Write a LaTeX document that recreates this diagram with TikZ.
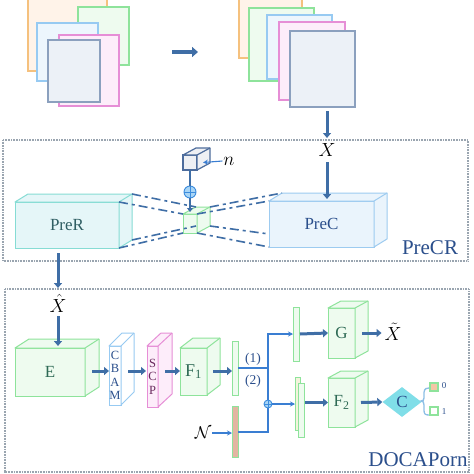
\RequirePackage{fix-cm}
\documentclass[tikz,border=0pt]{standalone}
\usepackage{fontspec}
\setmainfont{Liberation Serif}
\usetikzlibrary{arrows.meta,calc,shapes.geometric}
\definecolor{arrowblue}{HTML}{3F6EA6}
\definecolor{thinblue}{HTML}{3A7ED2}
\definecolor{gS}{HTML}{8EE39B}
\definecolor{gF}{HTML}{EEFBEF}
\definecolor{oS}{HTML}{F5C17E}
\definecolor{oF}{HTML}{FFF3E9}
\definecolor{bS}{HTML}{97CAF2}
\definecolor{bF}{HTML}{EDF6FD}
\definecolor{pS}{HTML}{E68ED6}
\definecolor{pF}{HTML}{FDEDFA}
\definecolor{kS}{HTML}{8BA0BE}
\definecolor{kF}{HTML}{ECF1F7}
\definecolor{tealS}{HTML}{86DCD4}
\definecolor{tealF}{HTML}{E5F6F8}
\definecolor{pcS}{HTML}{9DCBF0}
\definecolor{pcF}{HTML}{EAF4FC}
\definecolor{darkblue}{HTML}{2B4F8C}
\definecolor{darkteal}{HTML}{2F5E63}
\definecolor{darkgreen}{HTML}{2E6A55}
\definecolor{darkmag}{HTML}{6A2A5E}
\definecolor{frameC}{HTML}{9AA5B0}
\definecolor{cyanF}{HTML}{80DEE8}
\definecolor{peach}{HTML}{F3C6A6}
\definecolor{salmon}{HTML}{E2B5A2}
\definecolor{nS}{HTML}{4D6C9C}
\definecolor{nF}{HTML}{EEF0F4}
\definecolor{opF}{HTML}{A8D5F6}
\definecolor{opS}{HTML}{3C8CDD}
\definecolor{braceC}{HTML}{8DBFE6}
\definecolor{backbar}{HTML}{F4F3DC}
\newcommand\cubeside[4]{%
  \filldraw[#4] (#1.north west) -- ++(#2,#3) -- ($(#1.north east)+(#2,#3)$) -- ($(#1.south east)+(#2,#3)$) -- (#1.south east) -- (#1.north east) -- cycle;
  \draw[#4] (#1.north east) -- ++(#2,#3);
}
\tikzset{
  card/.style 2 args={draw=#1,fill=#2,line width=1.1pt,inner sep=0pt,outer sep=0pt,anchor=north west},
  face/.style 2 args={draw=#1,fill=#2,line width=1pt,inner sep=0pt,outer sep=0pt,anchor=north west},
  side/.style 2 args={draw=#1,fill=#2,line width=1pt,line join=round},
  bigarrow/.style={draw=arrowblue,line width=4pt,-{Triangle[length=6pt,width=10pt]}},
  midarrow/.style={draw=arrowblue,line width=3pt,-{Triangle[length=5pt,width=8pt]}},
  thinarrow/.style={draw=thinblue,line width=1.1pt,-{Stealth[length=5pt,width=5pt]}},
  thinline/.style={draw=thinblue,line width=1.1pt},
  dashline/.style={draw=arrowblue,line width=1.6pt,dash pattern=on 9pt off 4pt on 3pt off 4pt},
  frame/.style={draw=frameC,line width=1.2pt,dash pattern=on 0.8pt off 0.8pt},
  lbl/.style={inner sep=0pt,outer sep=1pt},
  mathlbl/.style={inner sep=0pt,outer sep=1pt,font=\fontsize{19}{19}\selectfont},
  biglbl/.style={inner sep=0pt,text=darkblue,font=\fontsize{21}{21}\selectfont},
  oplus/.style={circle,draw=opS,fill=opF,line width=0.9pt,inner sep=0pt,minimum size=#1,
    path picture={\draw[opS,line width=0.9pt] (path picture bounding box.north) -- (path picture bounding box.south) (path picture bounding box.west) -- (path picture bounding box.east);}},
}
\begin{document}
\begin{tikzpicture}[x=1pt,y=-1pt]
\useasboundingbox[fill=white] (0,0) rectangle (474,474);
% frames
\draw[frame] (3,140) rectangle (468,261);
\draw[frame] (5,289) rectangle (469,472);
% left stack
\node[card={oS}{oF},minimum width=79,minimum height=73] (l1) at (28,-2) {};
\node[card={gS}{gF},minimum width=51,minimum height=58] (l2) at (78,7) {};
\node[card={bS}{bF},minimum width=61,minimum height=58] (l3) at (37,23) {};
\node[card={pS}{pF},minimum width=60,minimum height=71] (l4) at (59,35) {};
\node[card={kS}{kF},minimum width=52,minimum height=62] (l5) at (48,40) {};
% right stack
\node[card={oS}{oF},minimum width=63,minimum height=60] (r1) at (239,-2) {};
\node[card={gS}{gF},minimum width=65,minimum height=73] (r2) at (249,8) {};
\node[card={bS}{bF},minimum width=65,minimum height=64] (r3) at (267,15) {};
\node[card={pS}{pF},minimum width=66,minimum height=78] (r4) at (279,22) {};
\node[card={kS}{kF},minimum width=65,minimum height=76] (r5) at (290,31) {};
\coordinate (ta) at (172,52);
\coordinate (tb) at (198,52);
\draw[bigarrow] (ta) -- (tb);
% PreCR
\node[mathlbl] (X) at (327,150) {$X$};
\draw[midarrow,shorten <=4pt] (X.north |- r5.south) -- (327,138);
\node[face={tealS}{tealF},minimum width=104,minimum height=46,font=\fontsize{17}{17}\selectfont,text=darkteal] (PreR) at (15,202) {PreR};
\cubeside{PreR}{13}{-8}{side={tealS}{tealF}}
\node[face={pcS}{pcF},minimum width=105,minimum height=46,font=\fontsize{17}{17}\selectfont,text=darkblue] (PreC) at (269,201) {PreC};
\cubeside{PreC}{13}{-8}{side={pcS}{pcF}}
\draw[midarrow,shorten <=5pt,shorten >=2pt] (X.south) -- (X |- PreC.north);
\node[face={nS}{nF},minimum width=14,minimum height=15,line width=1.2pt] (ncube) at (183,155) {};
\cubeside{ncube}{13}{-7}{side={nS}{nF},line width=1.2pt}
\node[mathlbl] (n) at (229,161) {$n$};
\draw[thinarrow] (n.west) -- ($(ncube.east)+(6,0)$);
\node[oplus=12pt] (op1) at (190,192) {};
\node[face={gS}{gF},minimum width=14,minimum height=19] (scube) at (183,214) {};
\cubeside{scube}{13}{-7}{side={gS}{gF}}
\draw[draw=arrowblue,line width=2pt] (ncube.south) -- (op1.north);
\draw[draw=arrowblue,line width=2pt,-{Triangle[length=4pt,width=6pt]},shorten >=2pt] (op1.south) -- (scube.north);
% dashed perspective lines
\draw[dashline] ($(PreR.north east)+(13,-8)$) -- ($(scube.north west)+(13,-7)$);
\draw[dashline] (PreR.north east) -- (scube.north west);
\draw[dashline] (PreR.south east) -- (scube.south west);
\draw[dashline] ($(PreR.south east)+(13,-8)$) -- ($(scube.south west)+(13,-7)$);
\draw[dashline] ($(scube.north east)+(13,-7)$) -- ($(PreC.north west)+(13,-8)$);
\draw[dashline] (scube.north east) -- (PreC.north west);
\draw[dashline] ($(scube.south east)+(13,-7)$) -- ($(PreC.south west)+(0,-13)$);
\draw[dashline] (scube.south east) -- (PreC.south west);
\node[biglbl] (precr) at (430,248) {PreCR};
% DOCAPorn
\node[mathlbl] (Xh) at (58,303) {$\hat{X}$};
\draw[midarrow,shorten <=5pt] (Xh |- PreR.south) -- (58,288);
\node[face={gS}{gF},minimum width=70,minimum height=48,font=\fontsize{17}{17}\selectfont,text=darkgreen] (E) at (15,348) {E};
\cubeside{E}{14}{-9}{side={gS}{gF}}
\draw[midarrow,shorten <=3pt,shorten >=2pt] (Xh.south) -- (Xh |- E.north);
\node[face={bS}{white},minimum width=12,minimum height=59,align=center,text=darkblue,font=\fontsize{12.5}{13.5}\selectfont] (CBAM) at (109,346) {C\\B\\A\\M};
\cubeside{CBAM}{13}{-13}{side={bS}{white}}
\node[face={pS}{pF},minimum width=11,minimum height=61,align=center,text=darkmag,font=\fontsize{12.5}{13.5}\selectfont] (SCP) at (147,346) {S\\C\\P};
\cubeside{SCP}{14}{-13}{side={pS}{pF}}
\node[face={gS}{gF},minimum width=27,minimum height=47,font=\fontsize{18}{18}\selectfont,text=darkgreen] (F1) at (180,348) {F\textsubscript{1}};
\cubeside{F1}{13}{-10}{side={gS}{gF}}
\node[face={gS}{gF},minimum width=6,minimum height=54] (bar1) at (232,341) {};
\node[face={gS}{salmon},minimum width=6,minimum height=51] (nbar) at (232,406) {};
\node[face={gS}{gF},minimum width=6,minimum height=54] (topbar) at (293,307) {};
\node[face={gS}{backbar},minimum width=5,minimum height=53] (dback) at (295,377) {};
\node[face={gS}{gF},minimum width=6,minimum height=54] (dfront) at (298,383) {};
\node[face={gS}{gF},minimum width=27,minimum height=50,font=\fontsize{17}{17}\selectfont,text=darkgreen] (G) at (328,308) {G};
\cubeside{G}{13}{-7}{side={gS}{gF}}
\node[face={gS}{gF},minimum width=27,minimum height=49,font=\fontsize{17}{17}\selectfont,text=darkgreen] (F2) at (328,378) {F\textsubscript{2}};
\cubeside{F2}{13}{-7}{side={gS}{gF}}
\coordinate (row) at (0,371);
\draw[midarrow] ($(E.east |- row)+(7,0)$) -- (CBAM.west |- row);
\draw[midarrow] ($(CBAM.east |- row)+(7,0)$) -- ($(SCP.west |- row)+(-1,0)$);
\draw[midarrow] ($(SCP.east |- row)+(7,0)$) -- (F1.west |- row);
\draw[midarrow] ($(F1.east |- row)+(6,0)$) -- (bar1.west |- row);
\coordinate (j1) at (268,368);
\node[oplus=8pt] (op2) at (268,404) {};
\draw[thinline] (bar1.east |- j1) -- (j1);
\draw[thinarrow] (j1) |- (topbar.west);
\draw[thinline] (j1) -- (op2.north);
\node[lbl,text=darkblue,font=\fontsize{13.5}{13.5}\selectfont] (lab1) at (253,359) {(1)};
\node[lbl,text=darkblue,font=\fontsize{13.5}{13.5}\selectfont] (lab2) at (253,381) {(2)};
\coordinate (nrow) at (0,432);
\draw[thinline] (nbar.east |- nrow) -| (op2.south);
\node[lbl,font=\fontsize{17}{17}\selectfont] (N) at (203,433) {$\mathcal{N}$};
\draw[thinarrow] (N.east) -- (nbar.west |- N);
\draw[thinarrow] (op2.east) -- (dback.west |- op2);
\draw[midarrow] ($(topbar.east)+(1,0)$) -- (G.west);
\draw[midarrow] ($(dfront.east |- F2.west)+(1,0)$) -- (F2.west);
\node[mathlbl] (Xt) at (393,332) {$\tilde{X}$};
\draw[midarrow,shorten >=2pt] ($(G.east)+(7,0)$) -- (Xt.west |- G.east);
\node[diamond,fill=cyanF,minimum width=39pt,minimum height=30pt,inner sep=0pt,text=darkblue,font=\fontsize{17}{17}\selectfont] (C) at (402,402) {C};
\draw[midarrow] ($(F2.east)+(6,0)$) -- (C.west);
\node[face={gS}{peach},minimum width=8,minimum height=8,line width=1.2pt] (sq0) at (430,383) {};
\node[face={gS}{white},minimum width=8,minimum height=8,line width=1.2pt] (sq1) at (430,407) {};
\node[lbl,text=darkblue,font=\fontsize{9}{9}\selectfont] (t0) at (444,386) {0};
\node[lbl,text=darkblue,font=\fontsize{9}{9}\selectfont] (t1) at (444,412) {1};
\draw[braceC,line width=1.3pt] (429,388) .. controls (424,388) and (424,391) .. (424,395) -- (424,398) .. controls (424,400) and (423,401) .. (421,401) .. controls (423,401) and (424,402) .. (424,405) -- (424,410) .. controls (424,414) and (425,415) .. (429,415);
\node[biglbl] (docaporn) at (418,460) {DOCAPorn};
\end{tikzpicture}
\end{document}
